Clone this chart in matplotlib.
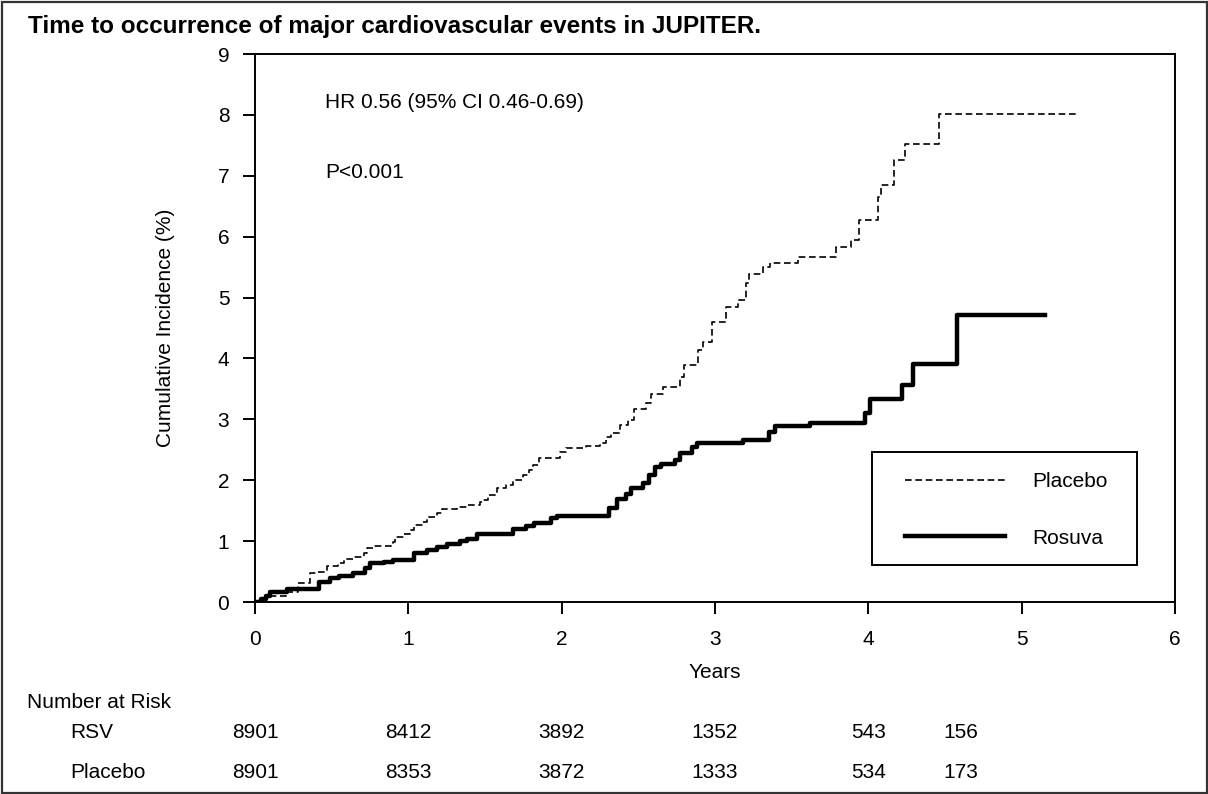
import matplotlib
matplotlib.use("Agg")
import matplotlib.pyplot as plt
import matplotlib.transforms as mtransforms
from matplotlib.patches import Rectangle

plt.rcParams["font.family"] = ["Liberation Sans", "DejaVu Sans"]

# Kaplan-Meier style cumulative incidence (%)
placebo_t = [0, 0.05, 0.10, 0.20, 0.28, 0.36, 0.40, 0.47, 0.54, 0.58, 0.64, 0.71,
             0.73, 0.77, 0.90, 0.91, 0.97, 1.01, 1.04, 1.09, 1.12, 1.19, 1.22, 1.32,
             1.38, 1.47, 1.49, 1.52, 1.58, 1.64, 1.68, 1.75, 1.79, 1.81, 1.85, 1.99,
             2.03, 2.16, 2.25, 2.29, 2.32, 2.38, 2.43, 2.47, 2.55, 2.58, 2.66, 2.77,
             2.80, 2.89, 2.92, 2.98, 3.07, 3.15, 3.20, 3.22, 3.31, 3.36, 3.54, 3.79,
             3.89, 3.94, 4.06, 4.08, 4.17, 4.24, 4.46, 5.37]
placebo_v = [0, 0.07, 0.10, 0.16, 0.31, 0.47, 0.49, 0.59, 0.64, 0.70, 0.74, 0.80,
             0.88, 0.92, 0.99, 1.07, 1.12, 1.18, 1.26, 1.31, 1.40, 1.46, 1.52, 1.56,
             1.59, 1.64, 1.67, 1.75, 1.87, 1.92, 2.00, 2.09, 2.17, 2.25, 2.36, 2.46,
             2.53, 2.57, 2.61, 2.71, 2.77, 2.90, 2.99, 3.17, 3.27, 3.42, 3.53, 3.70,
             3.89, 4.14, 4.27, 4.60, 4.85, 4.96, 5.24, 5.39, 5.50, 5.57, 5.67, 5.83,
             5.94, 6.27, 6.65, 6.85, 7.26, 7.53, 8.01, 8.01]

rosuva_t = [0, 0.04, 0.07, 0.10, 0.21, 0.42, 0.49, 0.55, 0.64, 0.72, 0.75, 0.84,
            0.90, 1.04, 1.12, 1.19, 1.25, 1.34, 1.38, 1.45, 1.68, 1.77, 1.82, 1.93,
            1.97, 2.31, 2.36, 2.42, 2.45, 2.53, 2.57, 2.61, 2.65, 2.74, 2.77, 2.85,
            2.88, 3.18, 3.35, 3.39, 3.62, 3.98, 4.01, 4.22, 4.29, 4.58, 5.15]
rosuva_v = [0, 0.05, 0.10, 0.17, 0.21, 0.33, 0.39, 0.43, 0.48, 0.56, 0.64, 0.66,
            0.69, 0.80, 0.85, 0.90, 0.96, 1.00, 1.03, 1.12, 1.20, 1.24, 1.30, 1.38,
            1.41, 1.54, 1.69, 1.78, 1.87, 1.95, 2.09, 2.22, 2.27, 2.33, 2.45, 2.55,
            2.61, 2.66, 2.79, 2.89, 2.94, 3.10, 3.33, 3.56, 3.91, 4.72, 4.72]

# number at risk table
risk_years = [0, 1, 2, 3, 4, 4.6]
risk_rsv = [8901, 8412, 3892, 1352, 543, 156]
risk_placebo = [8901, 8353, 3872, 1333, 534, 173]

W, H = 1208, 794
FS = 15
fig = plt.figure(figsize=(W / 100, H / 100), dpi=100)
ax = fig.add_axes([255 / W, 1 - 602 / H, 920 / W, 548 / H])

ax.step(placebo_t, placebo_v, where="post", color="black", lw=1.2,
        dashes=(4, 2.2), label="Placebo")
ax.step(rosuva_t, rosuva_v, where="post", color="black", lw=3.2,
        label="Rosuva")

ax.set_xlim(0, 6)
ax.set_ylim(0, 9)
ax.set_xticks(range(0, 7))
ax.set_yticks(range(0, 10))
ax.tick_params(direction="out", length=8.5, width=1.4, labelsize=FS)
ax.tick_params(axis="x", pad=12)
ax.tick_params(axis="y", pad=10)
for s in ax.spines.values():
    s.set_linewidth(1.4)
ax.set_xlabel("Years", fontsize=FS)
ax.set_ylabel("Cumulative Incidence (%)", fontsize=FS)
ax.xaxis.set_label_coords(0.5, -0.112)
ax.yaxis.set_label_coords(-0.087, 0.5)

fig.text(325 / W, 1 - 102 / H, "HR 0.56 (95% CI 0.46-0.69)", fontsize=FS,
         ha="left", va="center")
fig.text(325 / W, 1 - 172 / H, "P<0.001", fontsize=FS, ha="left", va="center")

# legend: frame drawn separately so padding matches
ax.add_patch(Rectangle((0.6707, 0.0675), 0.288, 0.2062, transform=ax.transAxes,
                       fill=False, lw=1.4, ec="black", zorder=5))
ax.legend(loc="upper left", bbox_to_anchor=(905 / W, 1 - 472 / H),
          bbox_transform=fig.transFigure, frameon=False, fontsize=FS,
          handlelength=4.8, handletextpad=1.3, labelspacing=1.8,
          borderpad=0, borderaxespad=0)

fig.suptitle("Time to occurrence of major cardiovascular events in JUPITER.",
             x=28 / W, y=1 - 27 / H, ha="left", va="center", fontsize=17.5,
             fontweight="bold")

# number at risk
trans = mtransforms.blended_transform_factory(ax.transData, fig.transFigure)
fig.text(27 / W, 1 - 703 / H, "Number at Risk", fontsize=FS, va="center")
fig.text(70 / W, 1 - 732 / H, "RSV", fontsize=FS, va="center")
fig.text(70 / W, 1 - 772 / H, "Placebo", fontsize=FS, va="center")
for yr, a, b in zip(risk_years, risk_rsv, risk_placebo):
    ax.text(yr, 1 - 732 / H, str(a), transform=trans, fontsize=FS,
            ha="center", va="center", clip_on=False)
    ax.text(yr, 1 - 772 / H, str(b), transform=trans, fontsize=FS,
            ha="center", va="center", clip_on=False)

fig.patches.append(Rectangle((1.5 / W, 1.5 / H), (W - 3) / W, (H - 3) / H,
                             transform=fig.transFigure, fill=False, lw=1.6,
                             ec="#333333"))

fig.savefig("out.png", dpi=100)
